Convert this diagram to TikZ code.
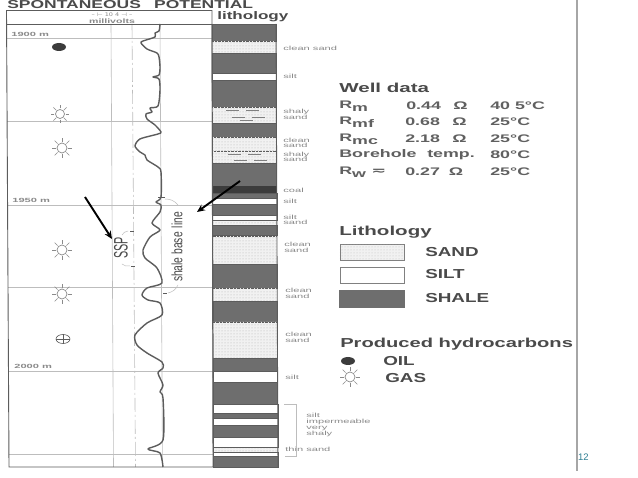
\documentclass[tikz,border=0pt]{standalone}
\usepackage{fontspec}
\setmainfont{Liberation Sans}
\newfontfamily\symf{DejaVu Sans}
\usetikzlibrary{patterns,arrows.meta,shapes.geometric}
\definecolor{shalec}{HTML}{6E6E6E}
\definecolor{coalc}{HTML}{3C3C3C}
\definecolor{sandc}{HTML}{F1F1F1}
\definecolor{edgec}{HTML}{5C5C5C}
\definecolor{gridc}{HTML}{BDBDBD}
\definecolor{txtc}{HTML}{4A4A4A}
\definecolor{datac}{HTML}{606060}
\definecolor{smallc}{HTML}{8A8A8A}
\definecolor{pagec}{HTML}{A6A6A6}
\definecolor{numc}{HTML}{2F7F93}
\newcommand{\lx}[1]{{212+.003*(#1-24)}}
\newcommand{\rx}[1]{{276+.0045*(#1-24)}}
\tikzset{
  lbl/.style={inner sep=0pt,anchor=west,text=txtc},
  ttlst/.style={lbl,font=\fontsize{11.5}{12}\selectfont\bfseries,xscale=1.52},
  headst/.style={lbl,font=\fontsize{13}{14}\selectfont\bfseries,xscale=1.58},
  datast/.style={lbl,font=\fontsize{11}{12}\selectfont\bfseries,text=datac,xscale=1.62},
  capst/.style={lbl,font=\fontsize{13}{14}\selectfont\bfseries,xscale=1.45},
  tinyst/.style={lbl,font=\fontsize{6}{6.5}\selectfont,text=smallc,xscale=1.85},
  depthst/.style={lbl,font=\fontsize{6}{6}\selectfont\bfseries,text=smallc,xscale=1.85},
  vertst/.style={inner sep=0pt,text=txtc,rotate=90,font=\fontsize{14}{15}\selectfont,xscale=.73},
  gridst/.style={draw=gridc,line width=.6pt},
  framest/.style={draw=edgec,line width=.9pt},
  leadst/.style={draw=gridc,line width=.5pt},
  arrowst/.style={draw=black,line width=1.9pt,-{Stealth[length=8pt,width=7pt]}},
  sunst/.style={draw=smallc,line width=.7pt},
  swatchst/.style={draw=gray,line width=.9pt}
}
\newcommand{\sunrays}[3]{%
  \node[circle,sunst,minimum size=#3pt,inner sep=0pt] (#1) at (#2) {};
  \foreach \an in {0,45,...,315}{\draw[sunst] (#2) ++(\an:#3*.62pt) -- ++(\an:#3*.42pt);}
}
\begin{document}
\begin{tikzpicture}[x=1pt,y=-1pt]
\useasboundingbox (0,0) rectangle (638,478);
\fill[white] (0,0) rectangle (638,478);
\clip (0,0) rectangle (638,478);
% grid lines
\foreach \yy in {38,121,205,287,371,454}{\draw[gridst] ({6.5+\yy*.0055},\yy) -- ({212+\yy*.0025},\yy);}
\draw[gridst] (111,24) -- (113.5,467);
\draw[gridst,dash pattern=on 14pt off 3pt on 2pt off 3pt] (132,24) -- (135.5,467);
\draw[gridst] (160,24) -- (162.5,467);
% log frame
\draw[framest] (6.5,10.5) -- (212,10.5) -- (213,467) -- (9,467) -- cycle;
\draw[framest] (6.5,24) -- (212,24);
% lithology column
\foreach \a/\b in {24/41,53/73,80/107,123/137,163/186,193/198,204/215,225/235,264/288,301/322,358/371,382/404,413/418,425/437,456/467}{
  \fill[shalec,draw=edgec,line width=.5pt] (\lx{\a},\a) rectangle (\rx{\b},\b);}
\foreach \a/\b in {186/193}{
  \fill[coalc] (\lx{\a},\a) rectangle (\rx{\b},\b);}
\foreach \a/\b in {41/53,107/123,137/151,151/163,220/225,236/264,288/301,322/358,447/452}{
  \fill[sandc] (\lx{\a},\a) rectangle (\rx{\b},\b);
  \fill[pattern=dots,pattern color=gray!60] (\lx{\a},\a) rectangle (\rx{\b},\b);
  \draw[edgec,densely dotted,line width=.4pt] (\lx{\a},\a) -- (\rx{\a},\a);
  \draw[edgec,densely dotted,line width=.4pt] (\lx{\b},\b) -- (\rx{\b},\b);}
\foreach \a/\b in {73/80,198/204,215/220,371/382,404/413,418/425,437/447,452/456}{
  \fill[white,draw=edgec,line width=.4pt] (\lx{\a},\a) rectangle (\rx{\b},\b);}
\draw[edgec,line width=.9pt] (212,24) -- (213.5,467) (276,24) -- (278,467);
% shaly dashes
\foreach \xa/\ya in {226/110,246/110,232/117,252/117,240/120,228/154,248/154,234/160,254/160}{
  \draw[gray,line width=.7pt] (\xa,\ya) -- ++(13,0);}
% SP curve
\draw[edgec,line width=1.4pt,line join=round] plot[smooth,tension=.45] coordinates {
(160,24)(159,31)(155,33)(155,37)(143,41)(141,43)(147,49)(157,53)(159,57)(160,67)(159,75)(153,77)(159,79)(160,90)(158,106)(150,108)(152,112)(146,114)(147,119)(155,125)(161,132)(158,134)(140,139)(135,146)(140,152)(145,155)(147,160)(158,167)(161,172)(161,197)(156,202)(161,205)(160,212)(152,223)(160,230)(150,237)(143,250)(145,258)(157,268)(162,283)(147,288)(142,295)(148,300)(160,303)(162,315)(147,323)(135,335)(137,345)(147,353)(162,362)(163,368)(158,373)(163,385)(160,392)(163,398)(163,440)(148,449)(160,453)(163,467)};
% ticks and leaders
\draw[edgec,line width=.9pt] (130,231) -- (134,231) (131,266) -- (135,266) (163,293) -- (167,293) (158,197) -- (165,197);
\coordinate (la) at (128,231); \coordinate (lb) at (122,235);
\coordinate (lc) at (130,266); \coordinate (ld) at (122,264);
\coordinate (le) at (165,199); \coordinate (lf) at (178,205);
\coordinate (lg) at (168,293); \coordinate (lh) at (178,285);
\draw[leadst] (la) to[bend right=25] (lb);
\draw[leadst] (lc) to[bend left=25] (ld);
\draw[leadst] (le) to[bend left=25] (lf);
\draw[leadst] (lg) to[bend right=25] (lh);
% header texts
\node[ttlst] (ttl) at (7,4.5) {SPONTANEOUS\hspace{.75em}POTENTIAL};
\node[lbl,font=\fontsize{5}{5}\selectfont\symf,text=smallc,anchor=center,xscale=1.3] (hd1) at (112,14.5) {– ⊢ 10 4 ⊣ –};
\node[lbl,font=\fontsize{6.4}{7}\selectfont\bfseries,text=smallc,anchor=center,xscale=1.65] (hd2) at (112,21) {millivolts};
\node[lbl,font=\fontsize{11}{12}\selectfont\bfseries,xscale=1.55] (lith) at (217,17) {lithology};
\node[depthst] (d1) at (11,34) {1900 m};
\node[depthst] (d2) at (12,200) {1950 m};
\node[depthst] (d3) at (14,366) {2000 m};
% symbols
\node[ellipse,fill=coalc,minimum width=14pt,minimum height=8pt,inner sep=0pt] (oil1) at (59,47) {};
\sunrays{s1}{60,114}{9}
\sunrays{s2}{62,148}{10}
\sunrays{s3}{62,250}{10}
\sunrays{s4}{62,294}{10}
\node[ellipse,draw=edgec,line width=.6pt,minimum width=14pt,minimum height=9pt,inner sep=0pt] (pl) at (63,339) {};
\draw[edgec,line width=.6pt] (pl.west) -- (pl.east) (pl.north) -- (pl.south);
% vertical labels
\node[vertst,font=\fontsize{19.5}{20}\selectfont,xscale=.76] (ssp) at (121,248) {SSP};
\node[vertst,font=\fontsize{15}{16}\selectfont,xscale=.94] (sbl) at (177,247) {shale base\hspace{.4em}line};
% arrows
\coordinate (a1) at (85,197); \coordinate (a1e) at (112,239);
\coordinate (a2) at (240,181); \coordinate (a2e) at (197,212);
\draw[arrowst] (a1) -- (a1e);
\draw[arrowst] (a2) -- (a2e);
% small lith labels
\node[tinyst] (c1) at (283,48) {clean sand};
\node[tinyst] (c2) at (283,76.5) {silt};
\node[tinyst,align=left] (c3) at (283,114.5) {shaly\\[-1pt]sand};
\node[tinyst,align=left] (c4) at (283,143) {clean\\[-1pt]sand};
\node[tinyst,align=left] (c5) at (283,157) {shaly\\[-1pt]sand};
\node[tinyst] (c6) at (283,190) {coal};
\node[tinyst] (c7) at (283,201.5) {silt};
\node[tinyst,align=left] (c8) at (283,220) {silt\\[-1pt]sand};
\node[tinyst,align=left] (c9) at (284,247.5) {clean\\[-1pt]sand};
\node[tinyst,align=left] (c10) at (285,293.5) {clean\\[-1pt]sand};
\node[tinyst,align=left] (c11) at (285,337.5) {clean\\[-1pt]sand};
\node[tinyst] (c12) at (285,377) {silt};
\node[tinyst,align=left,font=\fontsize{6}{5.8}\selectfont] (c13) at (306,425) {silt\\impermeable\\very\\shaly};
\node[tinyst] (c14) at (285,449.5) {thin sand};
\coordinate (br1) at (284,404); \coordinate (br2) at (296,404); \coordinate (br3) at (296,456); \coordinate (br4) at (285,456);
\draw[leadst] (br1) -- (br2) -- (br3) -- (br4);
% well data
\node[headst] (wd) at (339,88) {Well data};
\node[datast] (r1) at (339,106) {R\raisebox{-3pt}{m}};
\node[datast] (r2) at (339,122.5) {R\raisebox{-3pt}{mf}};
\node[datast] (r3) at (339,139) {R\raisebox{-3pt}{mc}};
\node[datast] (r4) at (339,155) {Borehole\hspace{.6em}temp.};
\node[datast] (r5) at (339,172) {R\raisebox{-3pt}{w}\hspace{.3em}{\symf ≂}};
\node[datast] (v1) at (406,106) {0.44\hspace{.7em}Ω};
\node[datast] (v2) at (405,122) {0.68\hspace{.7em}Ω};
\node[datast] (v3) at (405,139) {2.18\hspace{.7em}Ω};
\node[datast] (v5) at (405,172) {0.27\hspace{.5em}Ω};
\node[datast] (u1) at (490,106) {40 5°C};
\node[datast] (u2) at (490,122) {25°C};
\node[datast] (u3) at (490,139) {25°C};
\node[datast] (u4) at (490,155) {80°C};
\node[datast] (u5) at (490,172) {25°C};
% legend
\node[headst] (lg0) at (339,232) {Lithology};
\node[swatchst,fill=sandc,minimum width=64pt,minimum height=16pt,inner sep=0pt] (sw1) at (372,252.5) {};
\fill[pattern=dots,pattern color=gray!50] (sw1.south west) rectangle (sw1.north east);
\node[swatchst,fill=white,minimum width=64pt,minimum height=16pt,inner sep=0pt] (sw2) at (372,275) {};
\node[fill=shalec,draw=shalec,minimum width=65pt,minimum height=17pt,inner sep=0pt] (sw3) at (372,298.5) {};
\node[capst] (l1) at (425,252) {SAND};
\node[capst] (l2) at (425,274.5) {SILT};
\node[capst] (l3) at (425,298) {SHALE};
\node[headst,xscale=.98] (ph) at (340,344) {Produced hydrocarbons};
\node[ellipse,fill=coalc,minimum width=14pt,minimum height=8pt,inner sep=0pt] (oil2) at (348,361) {};
\node[capst] (oiltxt) at (383,361) {OIL};
\sunrays{s5}{350,377}{10}
\node[capst] (gastxt) at (385,378) {GAS};
% page rule and number
\coordinate (p1) at (577,0); \coordinate (p2) at (577,471);
\draw[pagec,line width=1.3pt] (p1) -- (p2);
\node[lbl,font=\fontsize{9.5}{10}\selectfont,text=numc] (pn) at (578,457.5) {12};
\end{tikzpicture}
\end{document}
